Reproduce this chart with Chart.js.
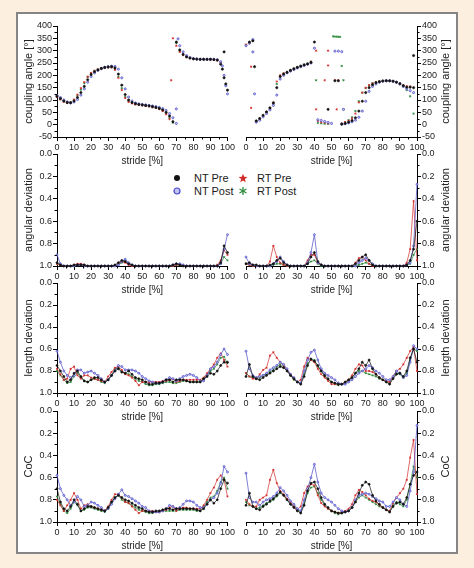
<!DOCTYPE html>
<html><head><meta charset="utf-8">
<script src="https://cdn.jsdelivr.net/npm/chart.js@4.4.1/dist/chart.umd.min.js"></script>
<style>
html,body{margin:0;padding:0;background:#fcefdf;width:474px;height:568px;overflow:hidden;font-family:"Liberation Sans",Arial,sans-serif;}
#box{position:absolute;left:16px;top:12px;width:442px;height:542px;background:#fff;border:2px solid #858585;box-sizing:border-box}
canvas{position:absolute}
.lg{position:absolute;font-size:11px;line-height:14px;color:#1a1a1a;white-space:nowrap}
.mk{position:absolute;width:10px;height:10px}
</style></head><body>
<div id="box"></div>
<div id="legend"></div>
<script>
// ---------- data ----------
const stride = [0,2,4,6,8,10,12,14,16,18,20,22,24,26,28,30,32,34,36,38,40,42,44,46,48,50,52,54,56,58,60,62,64,66,68,70,72,74,76,78,80,82,84,86,88,90,92,94,96,98,100];
const seriesNames = ['NT Pre','NT Post','RT Pre','RT Post'];

// coupling angle [deg], left column
const caL_ntPre  = [115,106,96,90,89,96,110,130,155,182, 203,215,222,228,232,234,235,230,205,160, 122,100,90,85,82,80,78,76,73,70, 66,60,50,35,12,335,303,285,275,270, 267,266,265,265,265,265,264,262,245,190,140];
const caL_ntPost = [118,110,100,92,88,92,102,120,145,172, 195,210,220,227,232,235,237,236,225,190, 145,112,96,88,84,82,80,78,76,73, 70,65,58,45,28,5,320,295,280,272, 268,266,265,265,265,265,265,263,255,200,125];
const caL_rtPre  = [112,102,93,88,90,102,122,148,172,195, 210,218,224,228,231,232,232,222,190,140, 108,92,86,82,80,78,76,74,71,68, 63,55,42,22,350,320,295,282,274,269, 267,265,264,264,264,264,263,260,252,null,null];
const caL_rtPost = [114,104,94,89,90,100,118,142,168,192, 208,217,223,228,231,233,233,225,195,148, 112,95,88,84,81,79,77,75,72,69, 65,58,46,28,8,330,298,283,275,270, 267,266,265,265,265,265,264,262,255,null,null];
const caL_ntPreExtra  = [[97,225],[99,165],[98,295]];
const caL_ntPostExtra = [[71,348],[70,64],[97,238],[99,158]];
const caL_rtPreExtra  = [[67,180]];
const caL_rtPostExtra = [];

// coupling angle [deg], right column
const caR_ntPre  = [null,335,340,15,25,38,52,68,88,150, 195,205,212,220,226,232,237,242,246,252, 335,null,null,null,null,null,null,null,2,5, 10,16,28,55,95,130,150,162,170,174, 177,178,178,176,172,166,158,152,152,150,null];
const caR_ntPost = [320,330,345,10,18,32,45,60,78,120, 185,200,210,217,224,230,235,240,245,250, 310,20,17,13,9,5,null,null,2,4, 7,12,18,30,55,95,135,155,165,172, 176,178,178,176,172,165,155,145,138,130,null];
const caR_rtPre  = [325,330,340,14,24,36,50,66,90,175, 200,208,214,220,226,232,237,242,246,255, null,15,10,8,5,null,null,null,5,10, 16,25,45,90,130,150,160,167,172,175, 177,178,178,176,172,166,160,156,155,null,null];
const caR_rtPost = [322,332,342,12,22,35,48,64,85,165, 198,207,214,221,228,234,239,244,248,256, null,7,5,4,3,null,357,356,238,10, 18,30,55,95,130,148,160,168,173,176, 178,179,178,176,172,165,155,140,115,45,null];
const caR_ntPreExtra  = [[5,235],[48,62],[52,178],[54,178],[98,280]];
const caR_ntPostExtra = [[5,125],[4,295],[52,298],[54,298],[56,296],[57,62]];
const caR_rtPreExtra  = [[3,235],[3,68],[41,62],[41,300],[46,180],[48,240],[48,300],[52,180],[53,62],[54,180]];
const caR_rtPostExtra = [[41,180],[51,358],[53,357],[55,356],[57,180],[57,62]];

// angular deviation
const adL_ntPre  = [0.97,0.99,1.0,1.0,1.0,0.99,0.99,0.99,0.99,1.0, 1.0,1.0,1.0,1.0,1.0,1.0,1.0,0.99,0.97,0.95, 0.96,0.98,0.99,1.0,1.0,1.0,1.0,1.0,1.0,1.0, 1.0,1.0,1.0,1.0,0.99,0.98,0.99,1.0,1.0,1.0, 1.0,1.0,1.0,1.0,1.0,1.0,1.0,1.0,0.97,0.82,0.88];
const adL_ntPost = [0.9,0.98,1.0,1.0,1.0,1.0,0.99,0.99,1.0,1.0, 1.0,1.0,1.0,1.0,1.0,1.0,1.0,1.0,0.99,0.96, 0.94,0.97,0.99,1.0,1.0,1.0,1.0,1.0,1.0,1.0, 1.0,1.0,1.0,1.0,0.99,0.98,0.98,0.99,1.0,1.0, 1.0,1.0,1.0,1.0,1.0,1.0,1.0,1.0,0.98,0.85,0.72];
const adL_rtPre  = [0.98,0.99,1.0,1.0,1.0,0.99,0.98,0.98,0.99,1.0, 1.0,1.0,1.0,1.0,1.0,1.0,1.0,1.0,0.98,0.96, 0.97,0.99,1.0,1.0,1.0,1.0,1.0,1.0,1.0,1.0, 1.0,1.0,1.0,1.0,1.0,0.99,0.99,1.0,1.0,1.0, 1.0,1.0,1.0,1.0,1.0,1.0,1.0,0.99,0.95,0.86,0.9];
const adL_rtPost = [0.98,0.99,1.0,1.0,1.0,1.0,0.99,0.99,0.99,1.0, 1.0,1.0,1.0,1.0,1.0,1.0,1.0,1.0,0.99,0.97, 0.96,0.98,1.0,1.0,1.0,1.0,1.0,1.0,1.0,1.0, 1.0,1.0,1.0,1.0,1.0,0.99,0.99,1.0,1.0,1.0, 1.0,1.0,1.0,1.0,1.0,1.0,1.0,1.0,0.98,0.92,0.95];
const adR_ntPre  = [0.98,0.97,0.99,0.99,1.0,1.0,1.0,0.99,0.98,0.95, 0.93,0.97,0.99,1.0,1.0,1.0,1.0,1.0,0.98,0.92, 0.88,0.96,0.99,1.0,1.0,1.0,1.0,1.0,1.0,1.0, 1.0,1.0,0.98,0.95,0.92,0.9,0.95,0.99,1.0,1.0, 1.0,1.0,1.0,1.0,1.0,1.0,1.0,0.99,0.95,0.85,0.6];
const adR_ntPost = [0.92,0.98,0.99,1.0,1.0,1.0,1.0,1.0,0.98,0.96, 0.92,0.96,0.99,1.0,1.0,1.0,1.0,1.0,0.97,0.88, 0.72,0.97,0.99,1.0,1.0,1.0,1.0,1.0,1.0,1.0, 1.0,1.0,1.0,0.97,0.95,0.93,0.95,0.98,1.0,1.0, 1.0,1.0,1.0,1.0,1.0,1.0,1.0,0.99,0.97,0.82,0.27];
const adR_rtPre  = [0.98,0.99,1.0,1.0,1.0,1.0,1.0,0.96,0.82,0.92, 0.97,0.99,1.0,1.0,1.0,1.0,1.0,1.0,0.95,0.9, 0.9,0.97,0.99,1.0,1.0,1.0,1.0,1.0,1.0,1.0, 1.0,1.0,0.97,0.93,0.92,0.95,0.98,1.0,1.0,1.0, 1.0,1.0,1.0,1.0,1.0,1.0,1.0,0.97,0.85,0.42,0.95];
const adR_rtPost = [0.98,0.99,1.0,1.0,1.0,1.0,1.0,1.0,0.99,0.98, 0.98,0.99,1.0,1.0,1.0,1.0,1.0,1.0,0.98,0.96, 0.95,0.98,1.0,1.0,1.0,1.0,1.0,1.0,1.0,1.0, 1.0,1.0,1.0,0.99,0.98,0.97,0.98,0.99,1.0,1.0, 1.0,1.0,1.0,1.0,1.0,1.0,1.0,0.99,0.98,0.9,0.85];

// length deviation
const ldL_ntPre  = [0.75,0.8,0.85,0.9,0.88,0.82,0.8,0.85,0.89,0.9, 0.88,0.86,0.86,0.88,0.9,0.88,0.84,0.8,0.78,0.81, 0.82,0.8,0.83,0.86,0.87,0.88,0.9,0.92,0.92,0.91, 0.91,0.9,0.88,0.88,0.9,0.88,0.88,0.88,0.89,0.9, 0.9,0.9,0.9,0.87,0.85,0.82,0.83,0.8,0.75,0.72,0.72];
const ldL_ntPost = [0.62,0.72,0.8,0.84,0.86,0.84,0.79,0.79,0.82,0.81, 0.8,0.82,0.84,0.87,0.9,0.88,0.84,0.8,0.75,0.76, 0.79,0.79,0.79,0.8,0.82,0.85,0.87,0.89,0.9,0.91, 0.91,0.9,0.88,0.86,0.87,0.89,0.87,0.85,0.84,0.83, 0.84,0.86,0.89,0.89,0.84,0.78,0.76,0.72,0.65,0.6,0.65];
const ldL_rtPre  = [0.78,0.83,0.88,0.87,0.78,0.76,0.84,0.87,0.84,0.84, 0.86,0.87,0.88,0.89,0.9,0.85,0.81,0.77,0.76,0.79, 0.83,0.84,0.86,0.89,0.93,0.9,0.9,0.9,0.9,0.9, 0.9,0.89,0.89,0.88,0.87,0.9,0.89,0.88,0.88,0.88, 0.88,0.88,0.88,0.86,0.82,0.78,0.74,0.68,0.64,0.7,0.76];
const ldL_rtPost = [0.8,0.84,0.88,0.91,0.9,0.85,0.82,0.86,0.89,0.9, 0.88,0.87,0.88,0.9,0.91,0.88,0.84,0.78,0.77,0.81, 0.82,0.83,0.85,0.87,0.89,0.9,0.92,0.93,0.93,0.92, 0.92,0.91,0.9,0.9,0.91,0.91,0.9,0.89,0.89,0.9, 0.9,0.9,0.9,0.87,0.84,0.8,0.78,0.74,0.68,0.67,0.73];
const ldR_ntPre  = [0.85,0.74,0.85,0.87,0.88,0.86,0.84,0.82,0.8,0.78, 0.76,0.77,0.8,0.84,0.87,0.9,0.92,0.85,0.75,0.69, 0.71,0.75,0.8,0.84,0.87,0.9,0.91,0.92,0.92,0.9, 0.88,0.86,0.82,0.78,0.72,0.75,0.7,0.78,0.83,0.86, 0.88,0.9,0.92,0.87,0.83,0.82,0.85,0.8,0.68,0.6,0.72];
const ldR_ntPost = [0.62,0.78,0.84,0.86,0.85,0.84,0.82,0.79,0.77,0.75, 0.72,0.74,0.78,0.83,0.86,0.9,0.91,0.8,0.7,0.63, 0.61,0.7,0.78,0.82,0.84,0.86,0.88,0.91,0.92,0.92, 0.9,0.88,0.85,0.82,0.8,0.78,0.75,0.77,0.8,0.82, 0.85,0.88,0.88,0.85,0.8,0.82,0.86,0.84,0.72,0.57,0.6];
const ldR_rtPre  = [0.82,0.85,0.87,0.87,0.83,0.79,0.77,0.66,0.63,0.68, 0.72,0.75,0.79,0.83,0.87,0.9,0.88,0.76,0.68,0.7, 0.72,0.78,0.83,0.86,0.89,0.92,0.92,0.92,0.92,0.9, 0.88,0.84,0.78,0.74,0.75,0.8,0.8,0.81,0.83,0.86, 0.88,0.89,0.9,0.85,0.8,0.78,0.74,0.68,0.62,0.58,0.8];
const ldR_rtPost = [0.82,0.85,0.86,0.87,0.86,0.84,0.83,0.81,0.79,0.76, 0.74,0.76,0.8,0.84,0.88,0.9,0.91,0.83,0.73,0.7, 0.7,0.76,0.8,0.85,0.88,0.9,0.92,0.93,0.92,0.91, 0.89,0.86,0.82,0.8,0.8,0.82,0.83,0.84,0.85,0.87, 0.88,0.9,0.91,0.86,0.82,0.83,0.86,0.82,0.7,0.6,0.62];

// CoC
const cocL_ntPre  = [0.7,0.82,0.88,0.9,0.86,0.8,0.84,0.9,0.88,0.86, 0.86,0.87,0.88,0.89,0.9,0.87,0.82,0.78,0.76,0.78, 0.8,0.81,0.83,0.85,0.87,0.88,0.9,0.91,0.91,0.9, 0.9,0.89,0.88,0.88,0.89,0.88,0.88,0.88,0.88,0.88, 0.88,0.89,0.9,0.88,0.84,0.8,0.83,0.8,0.7,0.62,0.65];
const cocL_ntPost = [0.58,0.7,0.76,0.8,0.85,0.82,0.77,0.8,0.86,0.85, 0.82,0.83,0.85,0.87,0.9,0.88,0.84,0.79,0.75,0.71, 0.76,0.77,0.79,0.81,0.83,0.86,0.87,0.9,0.91,0.91, 0.91,0.9,0.88,0.85,0.86,0.88,0.87,0.84,0.81,0.81, 0.82,0.85,0.87,0.87,0.84,0.8,0.78,0.74,0.65,0.5,0.55];
const cocL_rtPre  = [0.8,0.85,0.9,0.85,0.8,0.74,0.8,0.88,0.85,0.84, 0.86,0.87,0.88,0.89,0.9,0.86,0.8,0.75,0.75,0.78, 0.82,0.83,0.86,0.89,0.92,0.9,0.9,0.9,0.9,0.91, 0.91,0.9,0.89,0.87,0.86,0.9,0.88,0.87,0.87,0.88, 0.88,0.88,0.88,0.85,0.8,0.74,0.69,0.62,0.58,0.62,0.77];
const cocL_rtPost = [0.77,0.84,0.9,0.92,0.88,0.82,0.85,0.9,0.89,0.87, 0.87,0.88,0.89,0.9,0.91,0.88,0.82,0.78,0.76,0.8, 0.82,0.83,0.85,0.87,0.89,0.9,0.91,0.92,0.92,0.91, 0.91,0.9,0.9,0.9,0.9,0.9,0.89,0.89,0.89,0.89, 0.89,0.9,0.9,0.86,0.82,0.78,0.77,0.72,0.64,0.6,0.7];
const cocR_ntPre  = [0.85,0.74,0.86,0.88,0.89,0.86,0.84,0.81,0.79,0.76, 0.73,0.76,0.8,0.84,0.87,0.9,0.92,0.85,0.72,0.65, 0.64,0.7,0.78,0.84,0.87,0.9,0.91,0.92,0.92,0.91, 0.9,0.87,0.82,0.74,0.67,0.64,0.66,0.76,0.81,0.84, 0.87,0.89,0.91,0.86,0.83,0.82,0.84,0.78,0.66,0.58,0.55];
const cocR_ntPost = [0.56,0.78,0.82,0.82,0.85,0.82,0.8,0.79,0.77,0.74, 0.69,0.72,0.76,0.81,0.84,0.88,0.9,0.8,0.7,0.6, 0.48,0.64,0.74,0.78,0.8,0.82,0.85,0.88,0.9,0.91, 0.9,0.87,0.8,0.76,0.75,0.74,0.75,0.77,0.79,0.81, 0.82,0.86,0.86,0.82,0.78,0.8,0.84,0.86,0.72,0.55,0.13];
const cocR_rtPre  = [0.8,0.84,0.86,0.86,0.8,0.78,0.76,0.62,0.53,0.65, 0.72,0.75,0.79,0.82,0.86,0.89,0.86,0.74,0.68,0.66, 0.67,0.76,0.83,0.86,0.88,0.9,0.91,0.92,0.91,0.9, 0.88,0.84,0.76,0.71,0.73,0.76,0.79,0.81,0.82,0.85, 0.87,0.89,0.9,0.83,0.78,0.74,0.7,0.62,0.42,0.26,0.75];
const cocR_rtPost = [0.82,0.85,0.86,0.88,0.87,0.85,0.83,0.82,0.8,0.77, 0.74,0.76,0.8,0.84,0.86,0.89,0.91,0.84,0.74,0.69, 0.68,0.74,0.8,0.85,0.88,0.9,0.92,0.93,0.92,0.91, 0.9,0.87,0.82,0.78,0.76,0.78,0.8,0.82,0.84,0.86, 0.87,0.89,0.91,0.85,0.82,0.84,0.86,0.8,0.66,0.5,0.6];

const strideTicks = [0,10,20,30,40,50,60,70,80,90,100];
const angleTicks = [-50,0,50,100,150,200,250,300,350,400];
const devTicks = [0.0,0.2,0.4,0.6,0.8,1.0];

// ---------- styling ----------
const styles = [
  {color:'#111111', fill:'#111111', pointStyle:'circle'},
  {color:'#4747c8', fill:'#c4c4f0', pointStyle:'circle'},
  {color:'#d22b2b', fill:'#d22b2b', pointStyle:'star'},
  {color:'#2c8a3c', fill:'#2c8a3c', pointStyle:'star'}
];
const FONT = '"Liberation Sans", Arial, sans-serif';
const rows = [{top:26,bottom:137},{top:154,bottom:266},{top:283,bottom:393},{top:411,bottom:522}];

const minorTicks = {
  id:'minorTicks',
  afterDraw(chart){
    const ctx = chart.ctx;
    ctx.save(); ctx.strokeStyle = '#000'; ctx.lineWidth = 1;
    ctx.beginPath();
    Object.values(chart.scales).forEach(s => {
      const t = s.ticks;
      for (let i = 0; i + 1 < t.length; i++) {
        const mid = (t[i].value + t[i+1].value) / 2;
        const p = Math.round(s.getPixelForValue(mid)) + 0.5;
        if (s.isHorizontal()) { ctx.moveTo(p, s.top); ctx.lineTo(p, s.top + 2.5); }
        else if (s.position === 'left') { ctx.moveTo(s.right, p); ctx.lineTo(s.right - 2.5, p); }
        else { ctx.moveTo(s.left, p); ctx.lineTo(s.left + 2.5, p); }
      }
    });
    ctx.stroke(); ctx.restore();
  }
};

// right-hand axis title, drawn reading bottom-to-top like the left one
const rightTitle = {
  id:'rightTitle',
  afterDraw(chart, args, opts){
    if (!opts || !opts.text) return;
    const s = chart.scales.y, a = chart.chartArea, ctx = chart.ctx;
    ctx.save();
    ctx.translate(s.right - 28, (a.top + a.bottom) / 2);
    ctx.rotate(-Math.PI / 2);
    ctx.font = '11px ' + FONT; ctx.fillStyle = '#222';
    ctx.textAlign = 'center'; ctx.textBaseline = 'middle';
    ctx.fillText(opts.text, 0, 0);
    ctx.restore();
  }
};

function buildDatasets(seriesList, extrasList, isLine) {
  return seriesList.map((vals, k) => {
    let pts = vals.map((v, i) => ({x: stride[i], y: v}));
    if (extrasList && extrasList[k]) pts = pts.concat(extrasList[k].map(p => ({x: p[0], y: p[1]})));
    const st = styles[k];
    return {
      label: seriesNames[k], data: pts,
      showLine: isLine, spanGaps: false,
      borderColor: st.color, backgroundColor: st.fill,
      borderWidth: isLine ? 0.7 : 1,
      pointStyle: st.pointStyle,
      pointRadius: isLine ? 1.0 : 1.1,
      pointBorderColor: st.color, pointBackgroundColor: st.fill,
      pointBorderWidth: 0.7,
      clip: 4
    };
  });
}

function panel(rowIdx, side, title, seriesList, extrasList, kind) {
  const r = rows[rowIdx];
  const cv = document.createElement('canvas');
  const left = side === 'L' ? 0 : 236;
  const width = side === 'L' ? 236 : 238;
  const top = r.top - 12;
  const height = 12 + (r.bottom - r.top) + 34;
  cv.width = width; cv.height = height;
  cv.style.left = left + 'px'; cv.style.top = top + 'px';
  cv.style.width = width + 'px'; cv.style.height = height + 'px';
  document.body.appendChild(cv);
  const isAngle = kind === 'angle';
  const yTicks = isAngle ? angleTicks : devTicks;
  new Chart(cv.getContext('2d'), {
    type: 'scatter',
    data: { datasets: buildDatasets(seriesList, extrasList, !isAngle) },
    options: {
      responsive: false, animation: false, devicePixelRatio: 1,
      events: [],
      layout: { padding: side === 'L' ? {left:0,right:8,top:12,bottom:0} : {left:10,right:0,top:12,bottom:0} },
      plugins: { legend: {display:false}, tooltip: {enabled:false},
                 rightTitle: { text: side === 'R' ? title : '' } },
      scales: {
        x: {
          type: 'linear', position: 'bottom',
          min: strideTicks[0], max: strideTicks[strideTicks.length-1],
          afterFit: s => { s.height = 34; },
          afterBuildTicks: s => { s.ticks = strideTicks.map(v => ({value: v})); },
          ticks: { font: {family: FONT, size: 9}, color: '#222', padding: 1, maxRotation: 0, autoSkip: false },
          grid: { display: true, drawOnChartArea: false, drawTicks: true, tickLength: 4, tickColor: '#000', color: '#000' },
          border: { display: true, color: '#000', width: 1 },
          title: { display: true, text: 'stride [%]', font: {family: FONT, size: 10}, color: '#222', padding: {top:0, bottom:4} }
        },
        y: {
          type: 'linear', position: side === 'L' ? 'left' : 'right',
          min: yTicks[0], max: yTicks[yTicks.length-1], reverse: !isAngle,
          afterFit: s => { s.width = 57; },
          afterBuildTicks: s => { s.ticks = yTicks.map(v => ({value: v})); },
          ticks: { font: {family: FONT, size: 9}, color: '#222', padding: 1, autoSkip: false,
                   callback: v => isAngle ? String(v) : Number(v).toFixed(1) },
          grid: { display: true, drawOnChartArea: false, drawTicks: true, tickLength: 4, tickColor: '#000', color: '#000' },
          border: { display: true, color: '#000', width: 1 },
          title: { display: side === 'L', text: title, font: {family: FONT, size: 11}, color: '#222', padding: {top: 22, bottom: 0} }
        }
      }
    },
    plugins: [minorTicks, rightTitle]
  });
}

panel(0,'L','coupling angle [°]',[caL_ntPre,caL_ntPost,caL_rtPre,caL_rtPost],[caL_ntPreExtra,caL_ntPostExtra,caL_rtPreExtra,caL_rtPostExtra],'angle');
panel(0,'R','coupling angle [°]',[caR_ntPre,caR_ntPost,caR_rtPre,caR_rtPost],[caR_ntPreExtra,caR_ntPostExtra,caR_rtPreExtra,caR_rtPostExtra],'angle');
panel(1,'L','angular deviation',[adL_ntPre,adL_ntPost,adL_rtPre,adL_rtPost],null,'dev');
panel(1,'R','angular deviation',[adR_ntPre,adR_ntPost,adR_rtPre,adR_rtPost],null,'dev');
panel(2,'L','length deviation',[ldL_ntPre,ldL_ntPost,ldL_rtPre,ldL_rtPost],null,'dev');
panel(2,'R','length deviation',[ldR_ntPre,ldR_ntPost,ldR_rtPre,ldR_rtPost],null,'dev');
panel(3,'L','CoC',[cocL_ntPre,cocL_ntPost,cocL_rtPre,cocL_rtPost],null,'dev');
panel(3,'R','CoC',[cocR_ntPre,cocR_ntPost,cocR_rtPre,cocR_rtPost],null,'dev');

// ---------- legend ----------
const markerSvg = [
  '<svg class="mk" viewBox="0 0 10 10"><circle cx="5" cy="5" r="3" fill="#111"/></svg>',
  '<svg class="mk" viewBox="0 0 10 10"><circle cx="5" cy="5" r="3" fill="#c4c4f0" stroke="#4747c8" stroke-width="1.2"/></svg>',
  '<svg class="mk" viewBox="0 0 10 10"><polygon points="5,0.8 6.2,3.8 9.4,4 6.9,6 7.7,9.2 5,7.4 2.3,9.2 3.1,6 0.6,4 3.8,3.8" fill="#d22b2b"/></svg>',
  '<svg class="mk" viewBox="0 0 10 10"><g stroke="#2c8a3c" stroke-width="1.3"><line x1="5" y1="1" x2="5" y2="9"/><line x1="1.5" y1="3" x2="8.5" y2="7"/><line x1="1.5" y1="7" x2="8.5" y2="3"/></g></svg>'
];
const legendPos = [[177,178],[177,191],[243,178],[243,191]];
const textX = [194,194,257,257];
const lg = document.getElementById('legend');
seriesNames.forEach((name, k) => {
  const [mx, my] = legendPos[k];
  const m = document.createElement('div');
  m.style.cssText = 'position:absolute;left:'+(mx-5)+'px;top:'+(my-5)+'px;width:10px;height:10px';
  m.innerHTML = markerSvg[k];
  lg.appendChild(m);
  const t = document.createElement('div');
  t.className = 'lg';
  t.style.left = textX[k] + 'px'; t.style.top = (my - 7) + 'px';
  t.textContent = name;
  lg.appendChild(t);
});
</script>
</body></html>
